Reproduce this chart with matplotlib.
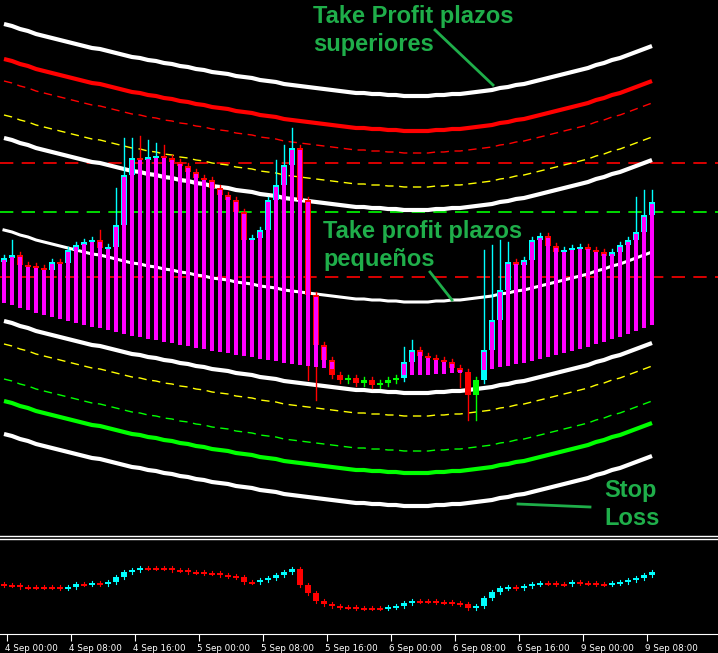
import matplotlib
matplotlib.use("Agg")
import matplotlib.pyplot as plt
from matplotlib.patches import Rectangle
import matplotlib.transforms as mtr
import numpy as np

# main chart closes (chart-pixel price scale, larger = lower)
close = [258,255,265,266,268,270,262,263,250,245,242,240,248,247,225,175,158,160,157,156,
         158,162,166,172,178,180,188,195,200,212,240,238,230,200,185,165,148,200,295,345,
         360,375,380,378,383,380,385,383,380,378,362,350,356,358,360,362,368,372,395,380,
         350,320,290,262,265,260,240,236,246,252,250,248,247,250,252,256,252,245,240,232,
         215,202]
first_open = 262
wick_up = [3,15,3,3,3,3,3,3,3,3,3,3,10,3,37,37,20,22,17,13,
           11,3,3,3,3,3,3,3,3,3,3,3,3,3,25,20,20,3,3,3,
           3,3,3,3,3,3,3,3,3,3,15,10,3,3,3,3,3,3,3,3,
           100,75,50,20,3,3,3,3,3,3,3,3,3,3,3,3,3,3,3,35,
           25,12]
wick_dn = [3,3,3,3,3,3,3,3,3,3,3,3,3,3,3,3,3,3,3,3,
           3,3,3,3,3,3,3,3,3,3,3,3,3,3,3,3,3,3,85,55,
           3,3,3,3,3,3,3,3,3,3,3,3,3,3,3,3,3,15,25,25,
           3,3,3,3,3,3,3,3,3,3,3,3,3,3,3,3,3,3,3,3,
           3,3]
center = [230,232,235,237,240,242,244,246,248,250,252,254,255,257,259,261,263,264,266,267,
          269,270,272,273,275,276,278,279,280,282,283,284,286,287,288,290,291,292,293,294,
          295,296,297,298,299,299,300,300,301,301,302,302,302,302,301,301,300,300,299,298,
          297,296,294,293,291,290,288,286,284,282,280,278,276,274,271,269,266,264,261,258,
          255,252]
band_offsets = [-206,-171,-149,-115,-92,91,114,149,171,204]
band_colors = ['white','red','red','yellow','white','white','yellow','#00ff00','#00ff00','white']
band_styles = ['-','-','--','--','-','-','--','--','-','-']
hlines = [163,212,277]
hline_colors = ['red','#00ff00','red']

sub_close = [585,585,587,587,587,587,587,588,587,584,584,583,584,582,577,572,570,568,568,568,
             568,570,570,572,572,573,573,575,576,577,582,582,580,578,575,572,569,585,593,601,
             604,606,607,607,608,608,608,608,607,606,603,601,601,601,602,602,603,604,608,606,
             598,592,588,587,588,586,584,583,583,584,584,582,583,583,584,584,583,582,580,578,
             575,572]
sub_first_open = 584
tick_labels = ['4 Sep 00:00','4 Sep 08:00','4 Sep 16:00','5 Sep 00:00','5 Sep 08:00','5 Sep 16:00',
               '6 Sep 00:00','6 Sep 08:00','6 Sep 16:00','9 Sep 00:00','9 Sep 08:00']

n = len(close)
opens = [first_open] + close[:-1]
sub_opens = [sub_first_open] + sub_close[:-1]

fig = plt.figure(figsize=(7.18, 6.53), dpi=100, facecolor='black')
W, H = 718, 653
ax = fig.add_axes([0, (H-535)/H, 1, 535/H])
ax.set_facecolor('black')
a0 = -0.5
ax.set_xlim(a0, a0 + W/8)
ax.set_ylim(535, 0)
ax.axis('off')

idx = np.arange(n)
for y, c in zip(hlines, hline_colors):
    ax.axhline(y, color=c, lw=1.2, ls=(0, (8, 5)), zorder=1)
cen = np.array(center)
ax.plot(idx, cen, color='white', lw=2.2, zorder=2)
for off, c, s in zip(band_offsets, band_colors, band_styles):
    lw = 1.0 if s == '--' else 3
    ax.plot(idx, cen + off, color=c, lw=lw, ls=(0, (6, 4)) if s == '--' else '-', zorder=2,
            solid_capstyle='butt')

for i in range(n):
    o, c = opens[i], close[i]
    top, bot = min(o, c), max(o, c)
    col = '#00ffff' if c < o else '#ff0000'
    if c < o and top > cen[i] + 70:
        col = '#00ff00'
    ax.plot([i, i], [top - wick_up[i], bot + wick_dn[i]], color=col, lw=1, zorder=3)
    ax.add_patch(Rectangle((i - 0.42, top), 0.84, max(bot - top, 1.5), color=col, zorder=3, lw=0))
    mb = cen[i] + 73
    mt = top + 2
    if mt < mb:
        ax.add_patch(Rectangle((i - 0.3, mt), 0.6, mb - mt, color='#ff00ff', zorder=4, lw=0))

green = '#1fae4a'
fk = dict(color=green, fontsize=17, fontweight='bold', family='Liberation Sans', va='top', ha='left',
          linespacing=1.3, zorder=10)
ax.text(313/8 + a0, 5, 'Take Profit plazos\nsuperiores', **fk)
ax.plot([435/8 + a0, 493/8 + a0], [30, 85], color=green, lw=2, zorder=10)
ax.text(323/8 + a0, 220, 'Take profit plazos\npequeños', **fk)
ax.plot([430/8 + a0, 452/8 + a0], [272, 300], color=green, lw=2, zorder=10)
ax.text(604/8 + a0, 479, 'Stop\nLoss', **fk)
ax.plot([518/8 + a0, 590/8 + a0], [504, 507], color=green, lw=2, zorder=10)

fig.add_artist(plt.Line2D([0, 1], [(H-535.5)/H]*2, color='white', lw=1))
fig.add_artist(plt.Line2D([0, 1], [(H-538.5)/H]*2, color='white', lw=1))

# sub chart
sx = fig.add_axes([0, (H-634)/H, 1, (634-540)/H])
sx.set_facecolor('black')
sx.set_xlim(a0, a0 + W/8)
sx.set_ylim(634, 540)
for i in range(n):
    o, c = sub_opens[i], sub_close[i]
    top, bot = min(o, c), max(o, c)
    col = '#00ffff' if c < o else '#ff0000'
    sx.plot([i, i], [top - 2, bot + 2], color=col, lw=0.8)
    sx.add_patch(Rectangle((i - 0.42, top), 0.84, max(bot - top, 2), color=col, lw=0))
for s in ['top', 'left', 'right']:
    sx.spines[s].set_visible(False)
sx.spines['bottom'].set_color('white')
ticks = [(7 - 4) / 8 + 8 * k for k in range(len(tick_labels))]
sx.set_xticks(ticks)
sx.set_xticklabels(tick_labels, color='white', fontsize=6.3)
sx.tick_params(axis='x', colors='white', length=5, pad=2)
for lab in sx.get_xticklabels():
    lab.set_horizontalalignment('left')
    lab.set_transform(lab.get_transform() + mtr.ScaledTranslation(-2/100, 0, fig.dpi_scale_trans))
sx.set_yticks([])

fig.savefig('out.png', dpi=100, facecolor='black')
